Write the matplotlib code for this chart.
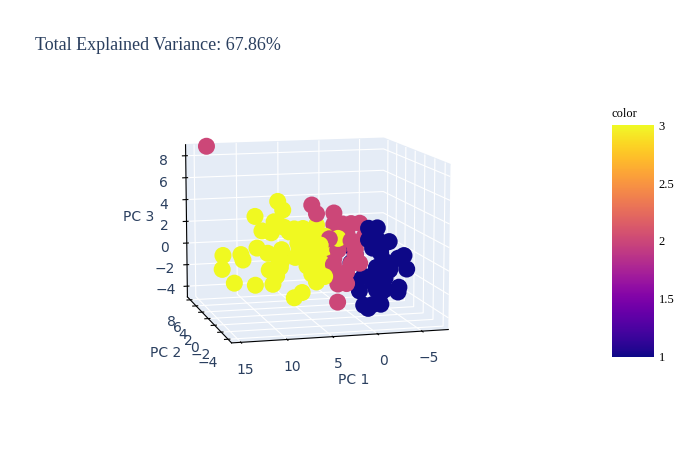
import matplotlib
matplotlib.use("Agg")
import matplotlib.pyplot as plt

# approximate principal component scores, by cluster
pc1_c3 = [6, 8, 10, 12, 9, 7, 5, 11, 13, 8, 6, 9, 10, 7, 4, 12, 14, 8, 5, 9, 11, 6, 7, 10, 8, 3, 5, 9,
          4, 6, 7, 8, 5, 6, 3, 4, 7, 9, 5, 6, 8, 4, 2, 3, 5, 7, 6, 4, 15, 13]
pc2_c3 = [0, 1, -1, 2, 0, 3, -2, 1, 0, -1, 2, 4, -3, 0, 1, -2, 3, 2, 0, -1, 1, 5, -2, 0, 3, 1, -1, 2,
          0, 1, -1, 2, 0, -1, 1, 2, 0, 1, -2, 0, 1, -1, 0, 2, 1, -1, 0, 1, 0, 2]
pc3_c3 = [2, 1, 3, 0, -1, 4, 2, -2, 1, 3, 0, 2, 1, -3, 3, 2, -1, 5, 1, 0, 4, 2, -2, 1, 3, 2, 0, -1,
          0, 1, 2, 3, -1, 0, 1, 2, 3, -2, 2, 1, 0, -1, 2, 0, 1, 2, 3, -2, 1, -2]

pc1_c2 = [2, 1, 3, 0, 2, 1, 4, 2, 3, 1, 0, 2, 3, 5, 1, -1, 2, 0, 1, 2, 3, 1, 0, -1, 2, 1, 3, 0, 1, 2, 16]
pc2_c2 = [0, 1, -1, 2, 0, -2, 1, 3, 0, -1, 1, 2, -2, 0, 4, 0, 1, 0, -1, 1, 2, 0, -1, 1, 0, 2, -1, 1, 0, 1, 2]
pc3_c2 = [1, 3, 0, 2, -2, 1, 4, -1, 2, 0, 3, 1, -3, 5, 0, 2, 4, 1, 2, 0, -1, -2, 0, 3, 1, 2, -1, 1, -1, 3, 10]

pc1_c1 = [-2, -3, -1, -4, -2, -3, 0, -1, -5, -2, -3, -4, -1, -2, -6, -3, -2, -4, -1, -3, -5,
          -2, -3, -1, -4, -2, -3, -1, -2, -4, -3, -5, -2, -1, -3, -4, -2, -3]
pc2_c1 = [0, 1, -1, 2, -2, 0, 1, 3, 0, -1, 2, -3, 0, 1, 0, -2, 4, 1, -1, 0, 2,
          0, 1, -1, 0, 2, -1, 1, 0, -2, 1, 0, -1, 2, 0, 1, -1, 0]
pc3_c1 = [1, -1, 2, 0, -2, -3, 1, -1, 0, 3, -2, 1, -4, 2, -1, 0, -3, -2, 3, -1, 1,
          -2, -3, -4, -1, -2, 0, -3, -4, -2, -1, -3, 2, 0, -4, -3, -1, 1]

x = pc1_c1 + pc1_c2 + pc1_c3
y = pc2_c1 + pc2_c2 + pc2_c3
z = pc3_c1 + pc3_c2 + pc3_c3
col = [1] * len(pc1_c1) + [2] * len(pc1_c2) + [3] * len(pc1_c3)

fig = plt.figure(figsize=(7, 4.5), dpi=100)
ax = fig.add_axes([0.1, 0.1, 0.68, 0.74], projection="3d")
sc = ax.scatter(x, y, z, c=col, cmap="plasma", vmin=1, vmax=3, s=150,
                alpha=1, depthshade=False, edgecolors="none")
ax.view_init(elev=10, azim=-105)
ax.set_xlim(16, -8)
ax.set_ylim(-5, 9)
ax.set_zlim(-5, 9)
ax.set_xticks([15, 10, 5, 0, -5])
ax.set_yticks([-4, -2, 0, 2, 4, 6, 8])
ax.set_zticks([-4, -2, 0, 2, 4, 6, 8])
ax.set_xlabel("PC 1", color="#2a3f5f")
ax.set_ylabel("PC 2", color="#2a3f5f")
ax.set_zlabel("PC 3", color="#2a3f5f")
for a in (ax.xaxis, ax.yaxis, ax.zaxis):
    a.set_pane_color("#e5ecf6")
    a._axinfo["grid"]["color"] = "white"
    a.set_tick_params(labelcolor="#2a3f5f", labelsize=10)

cax = fig.add_axes([0.874, 0.207, 0.06, 0.515])
cb = fig.colorbar(sc, cax=cax)
cb.set_ticks([1, 1.5, 2, 2.5, 3])
cb.set_ticklabels(["1", "1.5", "2", "2.5", "3"])
cb.outline.set_visible(False)
cb.ax.tick_params(length=0, labelsize=9)
cax.set_title("color", fontsize=9, family="Liberation Serif", loc="left")
for t in cax.get_yticklabels():
    t.set_family("Liberation Serif")

fig.text(0.05, 0.89, "Total Explained Variance: 67.86%", fontsize=13,
         family="Liberation Serif", color="#2a3f5f")
fig.savefig("out.png")
